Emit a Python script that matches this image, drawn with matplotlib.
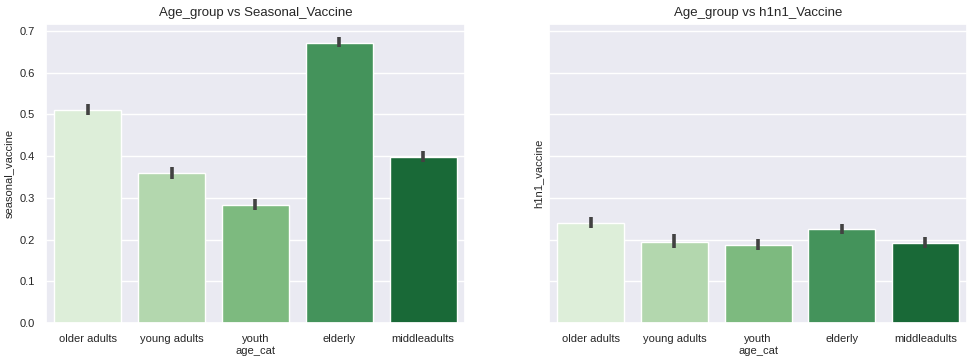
import numpy as np
import matplotlib
matplotlib.use("Agg")
import matplotlib.pyplot as plt
import seaborn as sns

sns.set_theme(style="darkgrid")
plt.rcParams["font.family"] = ["Arial", "Liberation Sans", "DejaVu Sans"]

age_cat = ["older adults", "young adults", "youth", "elderly", "middleadults"]

# mean and 95% CI
seasonal = [0.511, 0.360, 0.283, 0.671, 0.398]
seasonal_lo = [0.498, 0.345, 0.270, 0.662, 0.385]
seasonal_hi = [0.525, 0.375, 0.297, 0.685, 0.413]

h1n1 = [0.240, 0.195, 0.187, 0.225, 0.193]
h1n1_lo = [0.229, 0.181, 0.175, 0.213, 0.181]
h1n1_hi = [0.255, 0.213, 0.201, 0.237, 0.207]

# barplot draws its palette at 0.75 saturation
colors = [sns.desaturate(c, 0.75) for c in sns.color_palette("Greens", len(age_cat))]

fig = plt.figure(figsize=(9.75, 3.63), dpi=100)
ax1 = fig.add_axes([0.047, 0.110, 0.430, 0.824])
ax2 = fig.add_axes([0.563, 0.110, 0.429, 0.824], sharey=ax1)


def draw(ax, vals, lo, hi, title, ylabel):
    x = np.arange(len(age_cat))
    ax.bar(x, vals, width=0.8, color=colors, edgecolor="white", linewidth=1.0)
    ax.vlines(x, lo, hi, color="#424242", linewidth=2.6)
    ax.set_xticks(x)
    ax.set_xticklabels(age_cat, fontsize=8)
    ax.set_xlim(-0.5, len(age_cat) - 0.5)
    ax.grid(False, axis="x")
    ax.set_xlabel("age_cat", fontsize=8, labelpad=1)
    ax.set_ylabel(ylabel, fontsize=8)
    ax.set_title(title, fontsize=9.5, pad=6)
    ax.tick_params(axis="both", labelsize=8, pad=2)


draw(ax1, seasonal, seasonal_lo, seasonal_hi,
     "Age_group vs Seasonal_Vaccine", "seasonal_vaccine")
draw(ax2, h1n1, h1n1_lo, h1n1_hi,
     "Age_group vs h1n1_Vaccine", "h1n1_vaccine")

ax1.set_ylim(0, 0.717)
ax1.set_yticks(np.arange(0, 0.71, 0.1))
ax2.tick_params(axis="y", labelleft=False)

fig.savefig("out.png", dpi=100)
